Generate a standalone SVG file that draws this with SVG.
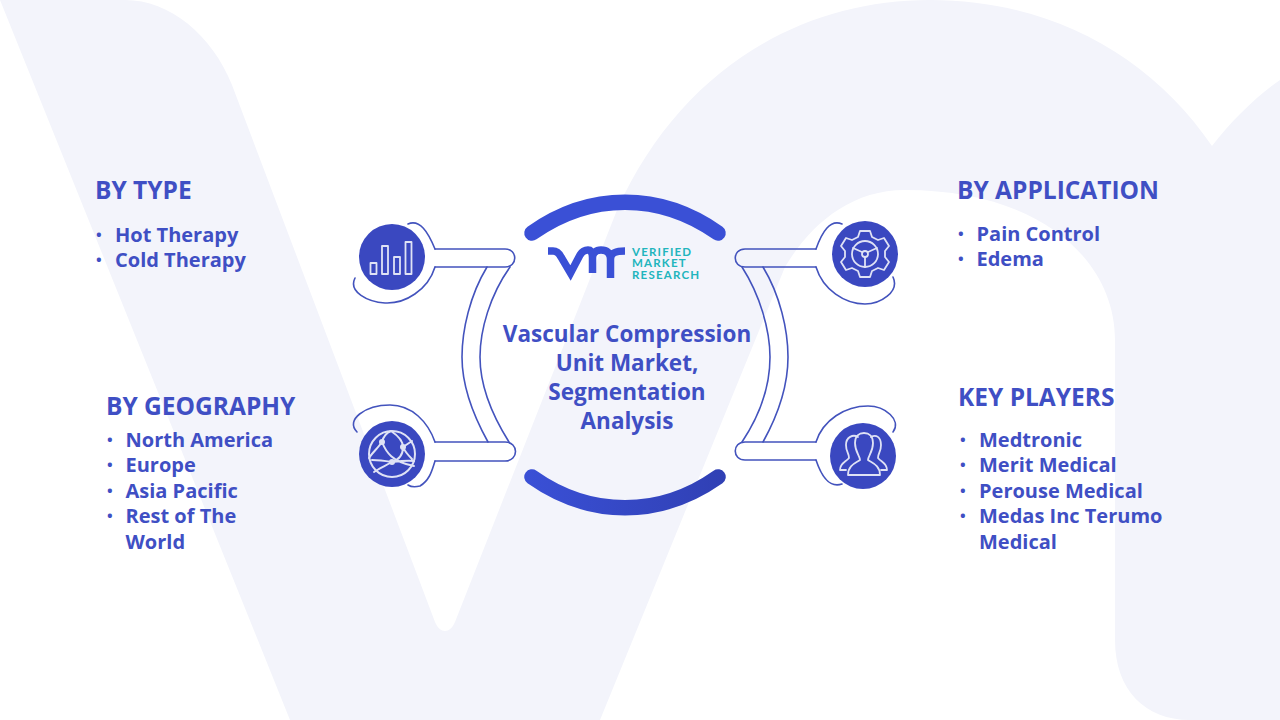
<svg xmlns="http://www.w3.org/2000/svg" width="1280" height="720" viewBox="0 0 1280 720">
<defs>
<linearGradient id="arcGrad" gradientUnits="userSpaceOnUse" x1="525" y1="0" x2="725" y2="0"><stop offset="0" stop-color="#3a50d6"/><stop offset="1" stop-color="#3040b4"/></linearGradient>
<style>
text{font-family:"Open Sans","Noto Sans","Liberation Sans",sans-serif;font-weight:700;fill:#3f4fc4}
.h{font-size:24.500px}
.i{font-size:20px}
.b{font-size:15px}
.t{font-size:22.500px;text-anchor:middle}
.r{fill:none;stroke:#4353bd;stroke-width:1.6;stroke-linecap:round}
.c{fill:#3a48c0}
.g{fill:none;stroke:#dfe2f5;stroke-width:1.8;stroke-linecap:round;stroke-linejoin:round}
.d{fill:#dfe2f5}
.a{fill:none;stroke-width:15.500;stroke-linecap:round}
.bg{fill:#f3f4fb}
.l{font-size:11.500px;font-weight:700;fill:#22b5bd;letter-spacing:1.200px;font-family:"Lato","Liberation Sans",sans-serif}
</style></defs>
<rect width="1280" height="720" fill="#fff"/>
<g id="background">
<path class="bg" d="M0 0H125C170 0 212 35 232 85L435 622C440 634 450 634 455 622L617 210C680 70 800 0 930 0C1050 0 1150 55 1212 146C1232 120 1258 95 1280 80V720H1190C1145 720 1115 690 1115 640V340C1115 260 1040 190 905 190C850 190 810 225 785 267L600 720H290Z"/>
</g>
<g id="connectors">
<path class="r" d="M487 267C470 295 462 330 462 357C462 385 473 415 488 442"/>
<path class="r" d="M510 267C490 295 480 330 480 357C480 385 492 415 509 442"/>
<path class="r" d="M763 267C780 295 788 330 788 357C788 385 778 415 763 442"/>
<path class="r" d="M742 267C760 295 770 330 770 357C770 385 760 415 742 442"/>
<path class="r" d="M435 249H505C518 249 518 267 505 267H435"/>
<path class="r" d="M816 249H745C732 249 732 267 745 267H816"/>
<path class="r" d="M435 442H505C519 442 519 461 505 461H435"/>
<path class="r" d="M816 442H745C732 442 732 460 745 460H816"/>
<path class="a" stroke="#3a50d6" d="M532 233C590 192 660 192 718 233"/>
<path class="a" stroke="url(#arcGrad)" d="M532 477C590 518 660 518 718 477"/>
</g>
<g id="node-type">
<path class="r" d="M408 224C420 219 428 232 435 249M435 267C428 290 405 304 385 303C368 302 348 292 355 278"/>
<circle class="c" cx="392" cy="257" r="33"/>
<g class="g"><rect x="370.500" y="263" width="6" height="11"/><rect x="382" y="246" width="6" height="28"/><rect x="394" y="257" width="6" height="17"/><rect x="405.500" y="242" width="6" height="32"/></g>
<text class="h" x="95" y="199">BY TYPE</text>
<text class="i"><tspan class="b" x="96" y="240">•</tspan><tspan x="115" y="242">Hot Therapy</tspan><tspan class="b" x="96" y="265">•</tspan><tspan x="115" y="267">Cold Therapy</tspan></text>
</g>
<g id="node-application">
<path class="r" d="M842 224C830 219 822 232 816 249M816 267C823 290 845 304 865 304C880 304 900 292 893 277"/>
<circle class="c" cx="865" cy="254" r="33"/>
<g class="g"><circle cx="865" cy="254" r="13"/><circle cx="865" cy="254" r="3"/><path d="M865 257V267M862 252L853 248M868 252L877 248"/><path d="M860 231H870L872 237L878 240L884 238L889 246L885 251V257L889 262L884 270L878 268L872 271L870 277H860L858 271L852 268L846 270L841 262L845 257V251L841 246L846 238L852 240L858 237Z"/></g>
<text class="h" x="957" y="199">BY APPLICATION</text>
<text class="i"><tspan class="b" x="958" y="239">•</tspan><tspan x="976.500" y="241">Pain Control</tspan><tspan class="b" x="958" y="264">•</tspan><tspan x="976.500" y="266">Edema</tspan></text>
</g>
<g id="node-geography">
<path class="r" d="M357 432C345 420 365 405 390 405C412 405 428 422 435 442M435 461C432 470 430 480 420 486C416 487 411 487 408 485"/>
<circle class="c" cx="392" cy="454" r="33"/>
<g class="g" style="stroke-width:2"><circle cx="392" cy="454" r="23"/><path d="M391 431C386 433 383 438 382 442C378 448 372 453 369 458M382 442C386 452 392 462 414 466M391 431C400 437 403 442 403 447C403 455 398 460 392 462C385 466 378 469 374 472M372 460C380 460 386 461 392 462C400 461 408 460 414 461M403 447C406 445 409 443 412 441M403 447C405 452 409 456 412 459"/></g>
<circle class="d" cx="382" cy="442" r="3"/><circle class="d" cx="403" cy="447" r="3"/><circle class="d" cx="392" cy="462" r="3"/>
<text class="h" x="106" y="415">BY GEOGRAPHY</text>
<text class="i"><tspan class="b" x="107" y="445">•</tspan><tspan x="125.500" y="447">North America</tspan><tspan class="b" x="107" y="470">•</tspan><tspan x="125.500" y="472">Europe</tspan><tspan class="b" x="107" y="496">•</tspan><tspan x="125.500" y="498">Asia Pacific</tspan><tspan class="b" x="107" y="521">•</tspan><tspan x="125.500" y="523">Rest of The</tspan><tspan x="125.500" y="549">World</tspan></text>
</g>
<g id="node-players">
<path class="r" d="M842 484C830 488 822 478 816 460M816 442C823 420 845 406 868 406C885 406 902 420 893 432"/>
<circle class="c" cx="863" cy="456" r="33"/>
<g class="g"><path d="M848 475H880C880 465 872 463 868 460C868 456 873 452 873 443C873 436 869 433 864 433C859 433 855 436 855 443C855 452 860 456 860 460C856 463 848 465 848 475Z"/><path d="M858 437C853 434 846 437 846 445C846 452 849 453 849 458C846 462 840 463 840 470H846"/><path d="M871 437C876 434 881 437 881 445C881 452 878 453 878 458C881 462 887 463 887 470H881"/></g>
<text class="h" x="958" y="406">KEY PLAYERS</text>
<text class="i"><tspan class="b" x="960" y="445">•</tspan><tspan x="979" y="447">Medtronic</tspan><tspan class="b" x="960" y="470">•</tspan><tspan x="979" y="472">Merit Medical</tspan><tspan class="b" x="960" y="496">•</tspan><tspan x="979" y="498">Perouse Medical</tspan><tspan class="b" x="960" y="521">•</tspan><tspan x="979" y="523">Medas Inc Terumo</tspan><tspan x="979" y="549">Medical</tspan></text>
</g>
<g id="center">
<path d="M548 251H553C557 251 559 253 561 257L570.500 273L580 255C583 250 586 250 588 250C591 250 592.500 253 592.500 258V273M592.500 258C592.500 253 596 250 601 250C607 250 610.500 253 610.500 259V278M610.500 259C610.500 253 615 251 625 251" fill="none" stroke="#3a50d6" stroke-width="7.500"/>
<text class="l"><tspan x="632" y="256">VERIFIED</tspan><tspan x="632" y="267">MARKET</tspan><tspan x="632" y="279">RESEARCH</tspan></text>
<text class="t"><tspan x="627" y="342">Vascular Compression</tspan><tspan x="627" y="371">Unit Market,</tspan><tspan x="627" y="400">Segmentation</tspan><tspan x="627" y="429">Analysis</tspan></text>
</g>
</svg>
